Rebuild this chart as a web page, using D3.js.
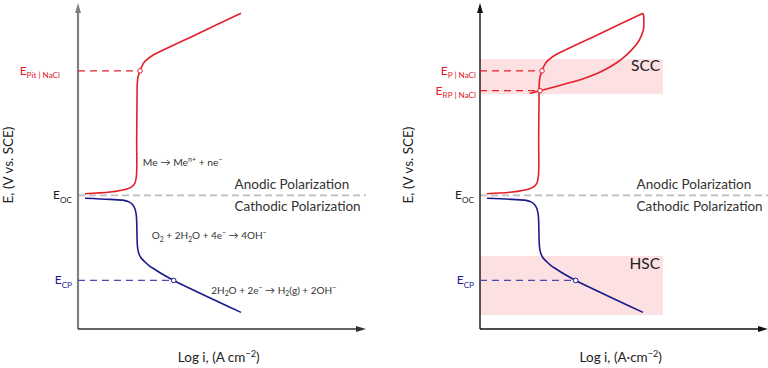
<!DOCTYPE html>
<html><head><meta charset="utf-8">
<script src="https://cdn.jsdelivr.net/npm/d3@7"></script>
<style>
html,body{margin:0;padding:0;background:#fff;}
svg{display:block;font-family:Lato,"Open Sans",sans-serif;}
</style></head><body>
<svg id="chart" width="768" height="368"></svg>
<script>
// ---- data (log i in decades, E in V vs. SCE, schematic values) ----
const anodicLogI = [-8.81,-8.11,-7.64,-7.50,-7.42,-7.375,-7.37,-7.36,-7.353,-7.333,-7.292,-7.278,-7.236,-7.167,-7.069,-6.972,-6.806,-5.611,-4.472];
const anodicE    = [0.010,0.020,0.039,0.054,0.075,0.125,0.34,0.60,0.689,0.726,0.756,0.764,0.787,0.815,0.836,0.852,0.873,0.998,1.117];
const reverseLogI = [-4.472,-4.452,-4.450,-4.458,-4.528,-4.631,-4.806,-5.000,-5.194,-5.444,-5.750,-6.111,-6.639,-7.333,-7.619];
const reverseE    = [1.117,1.095,1.063,1.020,0.974,0.933,0.888,0.848,0.815,0.781,0.747,0.717,0.683,0.642,0.625];
const cathodicLogI = [-8.806,-8.111,-7.722,-7.583,-7.486,-7.417,-7.381,-7.367,-7.358,-7.344,-7.311,-7.25,-7.153,-7.028,-6.861,-6.639,-6.342,-4.472];
const cathodicE    = [-0.018,-0.025,-0.031,-0.040,-0.056,-0.084,-0.121,-0.182,-0.274,-0.323,-0.357,-0.383,-0.406,-0.431,-0.455,-0.486,-0.522,-0.718];
const Eoc = 0.0;
const Epit = {logI:-7.278, E:0.764};
const Ep   = {logI:-7.278, E:0.764};
const Erp  = {logI:-7.333, E:0.642};
const Ecp  = {logI:-6.342, E:-0.522};
const sccBand = {logI:[-9,-3.92], E:[0.621,0.836]};
const hscBand = {logI:[-9,-3.92], E:[-0.734,-0.372]};
const xDomain = [-9,-1];
const yDomain = [-0.82,1.18];

const RED = "#e3202a", BLUE = "#1a1a8c", BLUE2 = "#4a4aaa", PINK = "#fde0e1";
const svg = d3.select("#chart");
const defs = svg.append("defs");
function marker(id,color){
  defs.append("marker").attr("id",id).attr("viewBox","0 0 10 10").attr("refX",1).attr("refY",5)
    .attr("markerWidth",10).attr("markerHeight",10).attr("markerUnits","userSpaceOnUse").attr("orient","auto")
    .append("path").attr("d","M0,2L10,5L0,8Z").attr("fill",color);
}
marker("arrGray","#808080"); marker("arrDark","#333"); marker("arrBlack","#111");

const zip = (a,b)=>a.map((v,i)=>[v,b[i]]);

function label(g,x,y,parts,opts){
  const t = g.append("text").attr("x",x).attr("y",y).attr("fill",opts.color||"#333")
    .attr("font-size",opts.size).attr("text-anchor",opts.anchor||"start");
  let shift=0;
  parts.forEach(([s,k])=>{
    const sp=t.append("tspan").text(s);
    const target = k==="sub"?opts.size*0.28:(k==="sup"?-opts.size*0.38:0);
    sp.attr("dy",target-shift); shift=target;
    if(k) sp.attr("font-size",opts.size*0.68);
  });
  return t;
}

function panel(ox, right){
  const g = svg.append("g").attr("transform",`translate(${ox},0)`);
  const x = d3.scaleLinear().domain(xDomain).range([0,288]);
  const y = d3.scaleLinear().domain(yDomain).range([329,3]);
  const line = d3.line().x(d=>x(d[0])).y(d=>y(d[1])).curve(d3.curveCatmullRom.alpha(0.5));

  if(right){
    g.append("rect").attr("x",x(sccBand.logI[0])).attr("width",x(sccBand.logI[1])-x(sccBand.logI[0]))
      .attr("y",y(sccBand.E[1])).attr("height",y(sccBand.E[0])-y(sccBand.E[1])).attr("fill",PINK);
    g.append("rect").attr("x",x(hscBand.logI[0])).attr("width",x(hscBand.logI[1])-x(hscBand.logI[0]))
      .attr("y",y(hscBand.E[1])).attr("height",y(hscBand.E[0])-y(hscBand.E[1])).attr("fill",PINK);
    g.append("text").attr("x",x(-4.0)).attr("y",y(sccBand.E[1])+12).attr("font-size",15.5).attr("fill","#222").attr("text-anchor","end").text("SCC");
    g.append("text").attr("x",x(-4.0)).attr("y",y(hscBand.E[1])+13).attr("font-size",15.5).attr("fill","#222").attr("text-anchor","end").text("HSC");
  }

  // Eoc dashed line
  g.append("line").attr("x1",x(xDomain[0])).attr("x2",x(xDomain[1])).attr("y1",y(Eoc)).attr("y2",y(Eoc))
    .attr("stroke","#bdbdbd").attr("stroke-width",1.6).attr("stroke-dasharray","7,4");

  // axes
  const ax = g.append("g").attr("transform",`translate(${x(xDomain[0])},0)`)
    .call(d3.axisLeft(y).tickValues([]).tickSizeOuter(0));
  ax.select(".domain").attr("stroke",right?"#111":"#808080").attr("stroke-width",right?1.4:2.2)
    .attr("marker-end",right?"url(#arrBlack)":"url(#arrGray)")
    .attr("d",`M0,${y(yDomain[0])}V${y(yDomain[1])+9}`);
  const axx = g.append("g").attr("transform",`translate(0,${y(yDomain[0])})`)
    .call(d3.axisBottom(x).tickValues([]).tickSizeOuter(0));
  axx.select(".domain").attr("stroke",right?"#111":"#333").attr("stroke-width",1.4)
    .attr("marker-end",right?"url(#arrBlack)":"url(#arrDark)")
    .attr("d",`M${x(xDomain[0])},0H${x(xDomain[1])-9}`);

  // dashed guide lines
  const dl=(pt,col)=>g.append("line").attr("x1",x(xDomain[0])).attr("x2",x(pt.logI)).attr("y1",y(pt.E)).attr("y2",y(pt.E))
    .attr("stroke",col).attr("stroke-width",1.2).attr("stroke-dasharray","7,5");
  if(right){ dl(Ep,RED); dl(Erp,RED);} else dl(Epit,RED);
  dl(Ecp,BLUE2);

  // curves
  g.append("path").attr("d",line(zip(anodicLogI,anodicE))).attr("fill","none").attr("stroke",RED).attr("stroke-width",1.6);
  if(right) g.append("path").attr("d",line(zip(reverseLogI,reverseE))).attr("fill","none").attr("stroke",RED).attr("stroke-width",1.6);
  g.append("path").attr("d",line(zip(cathodicLogI,cathodicE))).attr("fill","none").attr("stroke",BLUE).attr("stroke-width",1.6);

  // points
  const pt=(p,col)=>g.append("circle").attr("cx",x(p.logI)).attr("cy",y(p.E)).attr("r",2.3)
    .attr("fill","#fff").attr("stroke",col).attr("stroke-width",1);
  if(right){pt(Ep,RED);pt(Erp,RED);} else pt(Epit,RED);
  pt(Ecp,BLUE);

  // labels
  const lx = x(xDomain[0]);
  if(right){
    label(g,lx-4,y(Ep.E)+4,[["E"],["P | NaCl","sub"]],{size:12,color:RED,anchor:"end"});
    label(g,lx-4,y(Erp.E)+4,[["E"],["RP | NaCl","sub"]],{size:12,color:RED,anchor:"end"});
  } else {
    label(g,lx-18,y(Epit.E)+4,[["E"],["Pit | NaCl","sub"]],{size:12,color:RED,anchor:"end"});
  }
  label(g,lx-6,y(Eoc)+4,[["E"],["OC","sub"]],{size:12,color:"#222",anchor:"end"});
  label(g,lx-6,y(Ecp.E)+4,[["E"],["CP","sub"]],{size:12,color:BLUE,anchor:"end"});

  g.append("text").attr("x",x(-4.65)).attr("y",y(Eoc)-6).attr("font-size",13.5).attr("fill","#333").text("Anodic Polarization");
  g.append("text").attr("x",x(-4.65)).attr("y",y(Eoc)+16).attr("font-size",13.5).attr("fill","#333").text("Cathodic Polarization");

  if(!right){
    label(g,x(-7.2),y(0.2)+3,[["Me \u2192 Me"],["n+","sup"],[" + ne"],["\u2212","sup"]],{size:10.3,color:"#333"});
    label(g,x(-6.95),y(-0.25)+3,[["O"],["2","sub"],[" + 2H"],["2","sub"],["O + 4e"],["\u2212","sup"],[" \u2192 4OH"],["\u2212","sup"]],{size:10,color:"#333"});
    label(g,x(-5.3),y(-0.585)+3,[["2H"],["2","sub"],["O + 2e"],["\u2212","sup"],[" \u2192 H"],["2","sub"],["(g) + 2OH"],["\u2212","sup"]],{size:10,color:"#333"});
  }

  // axis titles
  g.append("text").attr("transform",`translate(${right?-67:-65},165) rotate(-90)`).attr("text-anchor","middle")
    .attr("font-size",13.5).attr("fill","#222").text("E, (V vs. SCE)");
  label(g,x(-5.09),362,[["Log i, (A"+(right?"\u00B7":" ")+"cm"],["\u22122","sup"],[")"]],{size:13.5,color:"#222",anchor:"middle"});
}
panel(78,false);
panel(480,true);
</script>
</body></html>
